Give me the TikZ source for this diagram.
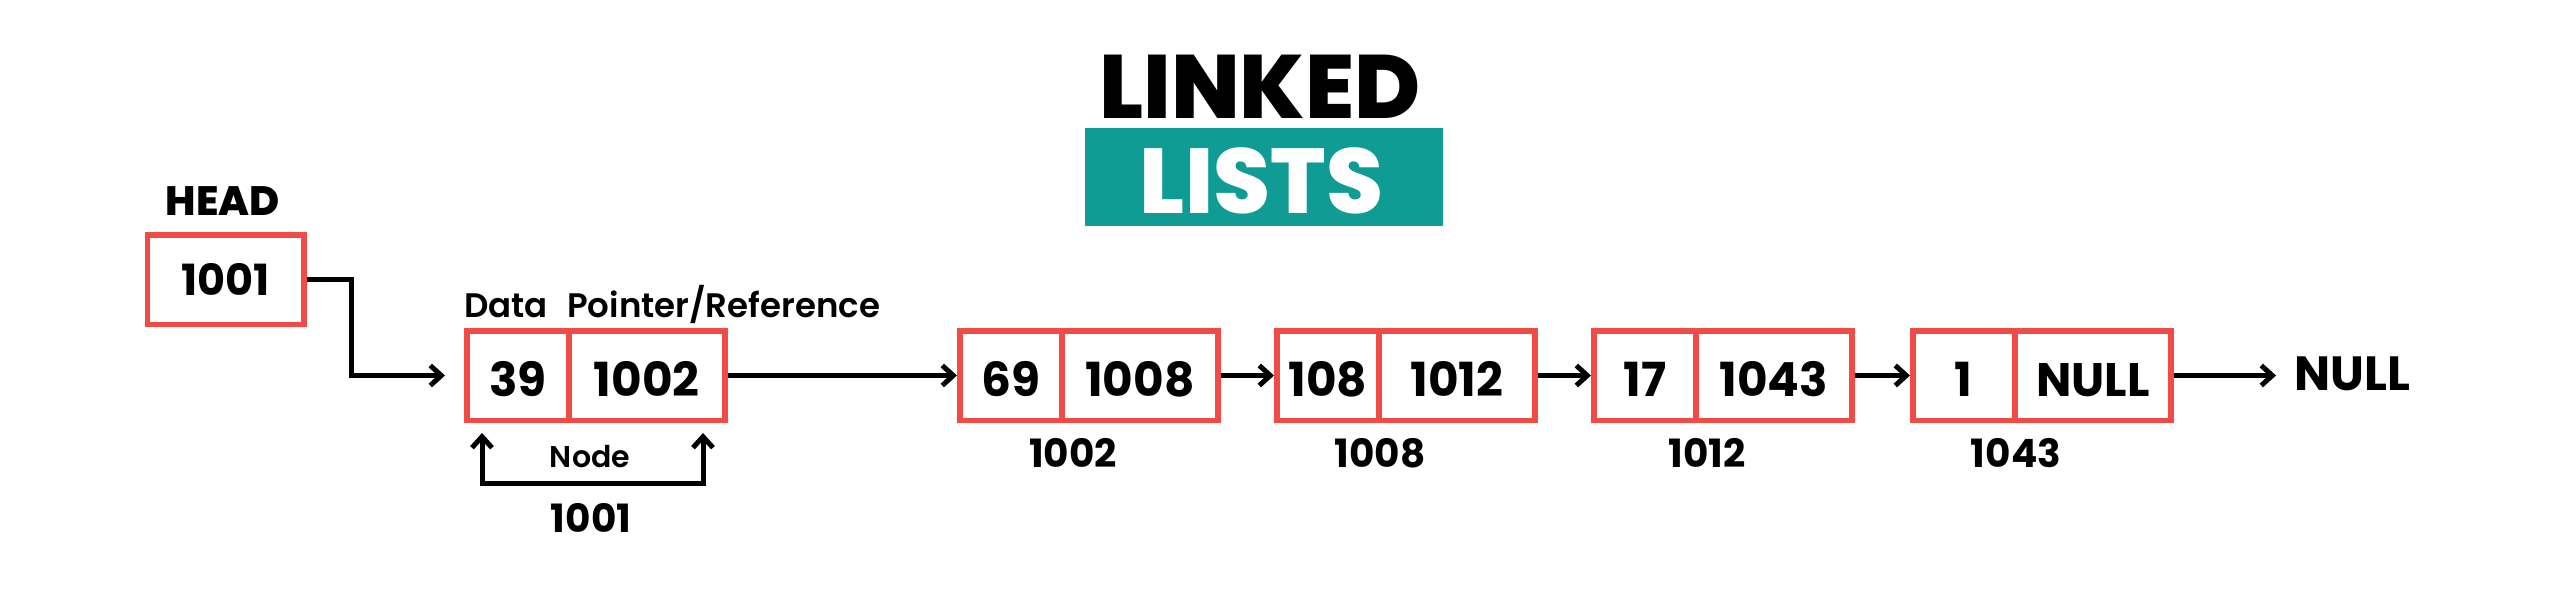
\documentclass[tikz,border=0pt]{standalone}
\usepackage{fontspec}
\setmainfont{Poppins}
\IfFontExistsTF{Poppins ExtraBold}{\newfontfamily\heavyfam{Poppins ExtraBold}}{\newfontfamily\heavyfam{Poppins}[UprightFont=* Bold]}
\IfFontExistsTF{Poppins SemiBold}{\newfontfamily\semifam{Poppins SemiBold}}{\newfontfamily\semifam{Poppins}[UprightFont=* Bold]}
\usetikzlibrary{arrows.meta}
\definecolor{boxred}{RGB}{240,75,69}
\definecolor{tealbg}{RGB}{14,156,148}
\newcommand\cellfnt{\fontsize{47pt}{47pt}\selectfont\bfseries}
\newcommand\headfnt{\fontsize{43pt}{43pt}\selectfont\bfseries}
\newcommand\labfnt{\fontsize{39pt}{39pt}\selectfont\bfseries}
\newcommand\capfnt{\fontsize{34pt}{34pt}\selectfont\semifam}
\newcommand\nodefnt{\fontsize{30pt}{30pt}\selectfont\semifam}
\begin{document}
\begin{tikzpicture}[x=1pt,y=-1pt,
  cell/.style={draw=boxred, line width=5.5pt, minimum height=89.5pt, inner sep=0pt,
    text height=42pt, text depth=0pt, font=\cellfnt, anchor=west},
  datacell/.style={cell, minimum width=102pt},
  ptrcell/.style={cell, minimum width=156pt},
  link/.style={line width=5pt, -{Straight Barb[length=11pt,width=20pt]}},
  addr/.style={font=\labfnt, text height=29pt, text depth=0pt, inner sep=0pt},
  txt/.style={inner sep=0pt}
]
\useasboundingbox (0,0) rectangle (2558,603);

% title
\node[txt, anchor=base, font=\fontsize{90pt}{90pt}\selectfont\heavyfam] (title1) at (1260,118) {LINKED};
\fill[tealbg] (1085,128) rectangle (1443,226);
\node[txt, anchor=base, text=white, font=\fontsize{92pt}{92pt}\selectfont\heavyfam] (title2) at (1261.5,213) {LISTS};

% head
\node[txt, anchor=base, font=\fontsize{41pt}{41pt}\selectfont\heavyfam] (headlab) at (223,215) {HEAD};
\node[draw=boxred, line width=5.5pt, minimum width=156.5pt, minimum height=89.5pt, inner sep=0pt,
  text height=32pt, text depth=0pt, font=\headfnt] (head) at (225.5,279.5) {1001};

% list nodes
\node[datacell] (d1) at (464,375.5) {39};
\node[ptrcell] (p1) at ([xshift=-5.5pt]d1.east) {1002};
\node[datacell] (d2) at (957,375.5) {69};
\node[ptrcell] (p2) at ([xshift=-5.5pt]d2.east) {1008};
\node[datacell] (d3) at (1274,375.5) {108};
\node[ptrcell] (p3) at ([xshift=-5.5pt]d3.east) {1012};
\node[datacell] (d4) at (1591,375.5) {17};
\node[ptrcell] (p4) at ([xshift=-5.5pt]d4.east) {1043};
\node[datacell] (d5) at (1910,375.5) {1};
\node[ptrcell] (p5) at ([xshift=-5.5pt]d5.east) {NULL};

% captions
\node[txt, anchor=base west, font=\capfnt] (datalab) at (464,317) {Data};
\node[txt, anchor=base west, font=\capfnt] (ptrlab) at (567,317) {Pointer/Reference};

% addresses
\node[addr] (a1) at (591,517.5) {1001};
\node[addr] (a2) at (1073,452.5) {1002};
\node[addr] (a3) at (1380,452.5) {1008};
\node[addr] (a4) at (1707,452.5) {1012};
\node[addr] (a5) at (2016,452.5) {1043};

% node bracket
\coordinate (bl) at (482,433);
\coordinate (br) at (703,433);
\draw[line width=5pt, {Straight Barb[length=11pt,width=20pt]}-{Straight Barb[length=11pt,width=20pt]}]
  (bl) -- ++(0,50) -| (br);
\node[txt, anchor=base, font=\nodefnt] (nodelab) at (590,467) {Node};

% connectors
\coordinate (hk) at (351,279.5);
\coordinate (hd) at (445,375.5);
\draw[link] (head.east) -- (hk) |- (hd);
\draw[link] (p1.east) -- (d2.west);
\draw[link] (p2.east) -- (d3.west);
\draw[link] (p3.east) -- (d4.west);
\draw[link] (p4.east) -- (d5.west);
\coordinate (nulltip) at (2276,375.5);
\draw[link] (p5.east) -- (nulltip);
\node[txt, anchor=base, font=\fontsize{48pt}{48pt}\selectfont\bfseries] (nullend) at (2352,390) {NULL};
\end{tikzpicture}
\end{document}
